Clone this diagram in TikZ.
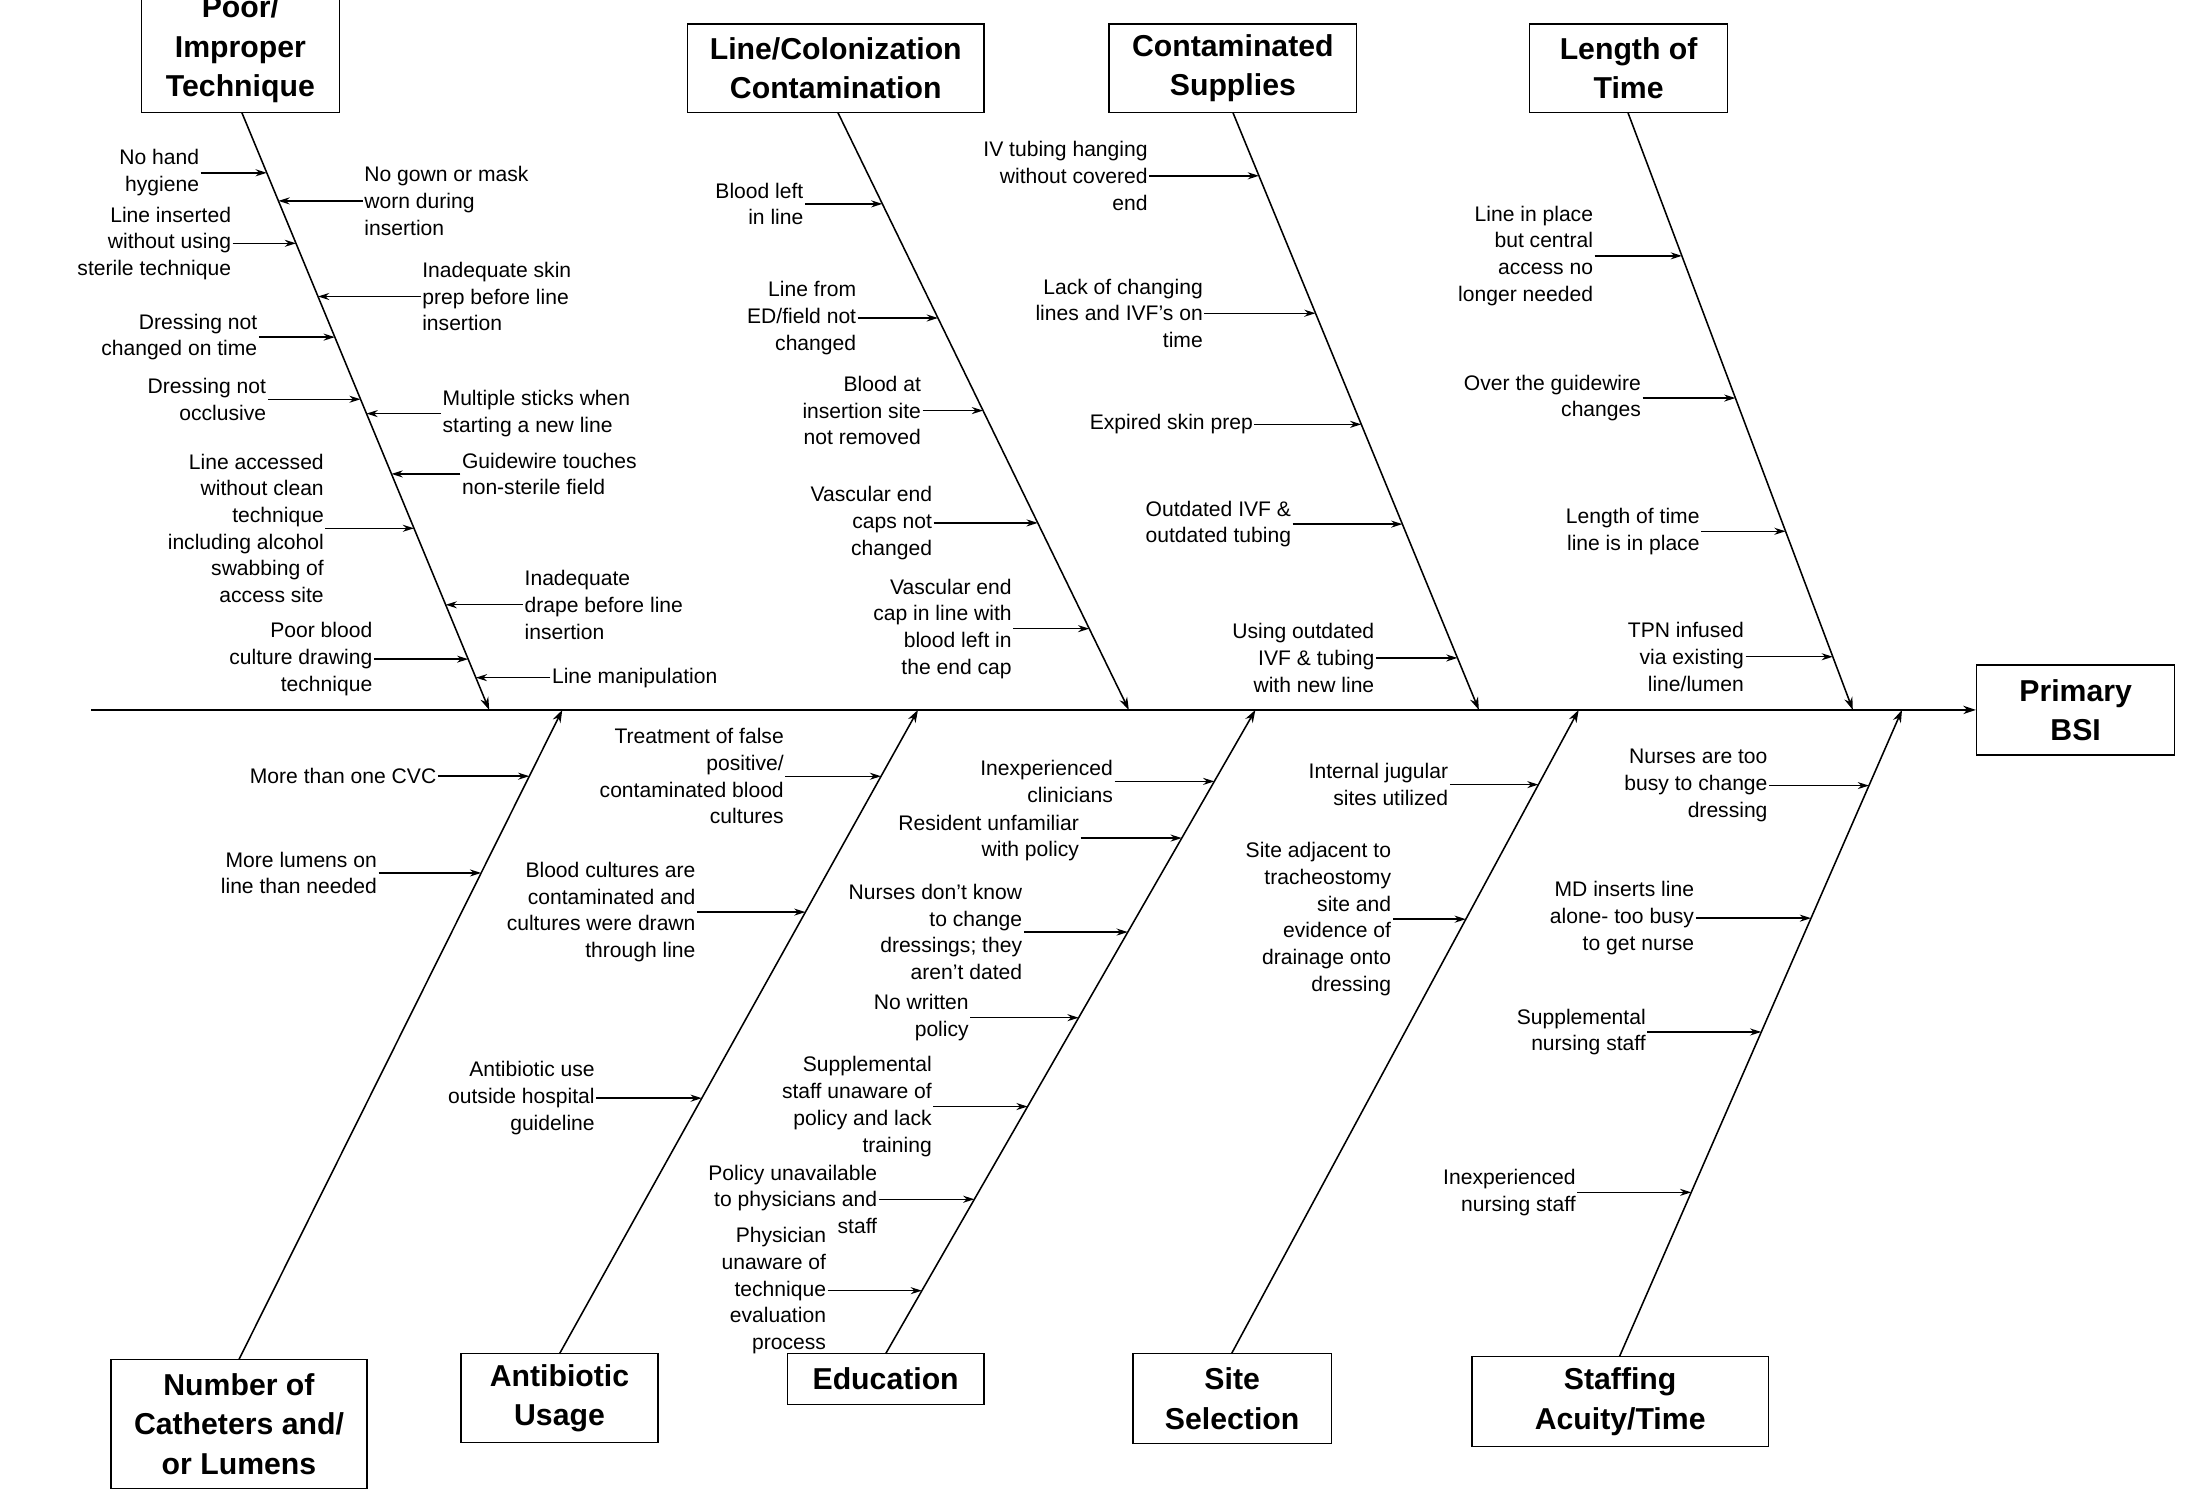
\documentclass[tikz,border=0pt]{standalone}
\usepackage{fontspec}
\setmainfont{Liberation Sans}
\usetikzlibrary{calc,arrows.meta}
\tikzset{
 box/.style={draw,line width=1pt,font=\fontsize{21.5}{28}\selectfont\bfseries,align=center,inner sep=0pt},
 bone/.style={line width=1.1pt},
 lab/.style={font=\fontsize{15}{19}\selectfont,inner sep=1pt},
 arr/.style={line width=1pt,-{Stealth[length=8pt,width=5pt]}}
}
\newcommand\causeL[5]{\coordinate (p) at ($(#1)!#3!(#2)$);
 \node[lab,anchor=east,align=right] (t) at ([xshift=-#4pt]p) {#5};
 \draw[arr] (t.east) -- (p);}
\newcommand\causeR[5]{\coordinate (p) at ($(#1)!#3!(#2)$);
 \node[lab,anchor=west,align=left] (t) at ([xshift=#4pt]p) {#5};
 \draw[arr] (t.west) -- (p);}
\begin{document}
\begin{tikzpicture}[x=1pt,y=-1pt]
\useasboundingbox (0,0) rectangle (1560,1072);
% boxes
\node[box,minimum width=141pt,minimum height=90pt] (b1) at (171,35) {Poor/\\Improper\\Technique};
\node[box,minimum width=211pt,minimum height=63pt] (b2) at (594.5,48.5) {Line/Colonization\\Contamination};
\node[box,minimum width=176pt,minimum height=63pt] (b3) at (877,48.5) {Contaminated\\Supplies};
\node[box,minimum width=141pt,minimum height=63pt] (b4) at (1158.5,48.5) {Length of\\Time};
\node[box,minimum width=141pt,minimum height=64pt] (bsi) at (1476.5,505) {Primary\\BSI};
\node[box,minimum width=182pt,minimum height=92pt] (b5) at (170,1013) {Number of\\Catheters and/\\or Lumens};
\node[box,minimum width=140pt,minimum height=63pt] (b6) at (398,994.5) {Antibiotic\\Usage};
\node[box,minimum width=140pt,minimum height=36pt] (b7) at (630,981) {Education};
\node[box,minimum width=141pt,minimum height=64pt] (b8) at (876.5,995) {Site\\Selection};
\node[box,minimum width=211pt,minimum height=64pt] (b9) at (1152.5,997) {Staffing\\Acuity/Time};
% spine
\coordinate (s0) at (65,505);
\draw[bone,-{Stealth[length=9pt,width=6pt]}] (s0) -- (bsi.west);
% bones
\coordinate (A1) at (172,80); \coordinate (B1) at (348,505);
\coordinate (A2) at (596,80); \coordinate (B2) at (803,505);
\coordinate (A3) at (877,80); \coordinate (B3) at (1052,505);
\coordinate (A4) at (1158,80); \coordinate (B4) at (1318,505);
\coordinate (A5) at (170,967); \coordinate (B5) at (400,505);
\coordinate (A6) at (398,963); \coordinate (B6) at (653,505);
\coordinate (A7) at (630,963); \coordinate (B7) at (893,505);
\coordinate (A8) at (876,963); \coordinate (B8) at (1123,505);
\coordinate (A9) at (1152,965); \coordinate (B9) at (1353,505);
\foreach \i in {1,...,9} {\draw[bone,-{Stealth[length=9pt,width=6pt]}] (A\i) -- (B\i);}
% bone 1
\causeL{A1}{B1}{0.101}{47}{No hand\\hygiene}
\causeL{A1}{B1}{0.219}{45}{Line inserted\\without using\\sterile technique}
\causeL{A1}{B1}{0.376}{54}{Dressing not\\changed on time}
\causeL{A1}{B1}{0.48}{66}{Dressing not\\occlusive}
\causeL{A1}{B1}{0.696}{63}{Line accessed\\without clean\\technique\\including alcohol\\swabbing of\\access site}
\causeL{A1}{B1}{0.915}{67}{Poor blood\\culture drawing\\technique}
\causeR{A1}{B1}{0.148}{60}{No gown or mask\\worn during\\insertion}
\causeR{A1}{B1}{0.308}{73}{Inadequate skin\\prep before line\\insertion}
\causeR{A1}{B1}{0.504}{53}{Multiple sticks when\\starting a new line}
\causeR{A1}{B1}{0.605}{49}{Guidewire touches\\non-sterile field}
\causeR{A1}{B1}{0.824}{55}{Inadequate\\drape before line\\insertion}
\causeR{A1}{B1}{0.946}{53}{Line manipulation}
% bone 2
\causeL{A2}{B2}{0.153}{55}{Blood left\\in line}
\causeL{A2}{B2}{0.344}{57}{Line from\\ED/field not\\changed}
\causeL{A2}{B2}{0.499}{43}{Blood at\\insertion site\\not removed}
\causeL{A2}{B2}{0.687}{74}{Vascular end\\caps not\\changed}
\causeL{A2}{B2}{0.864}{54}{Vascular end\\cap in line with\\blood left in\\the end cap}
% bone 3
\causeL{A3}{B3}{0.106}{78}{IV tubing hanging\\without covered\\end}
\causeL{A3}{B3}{0.336}{79}{Lack of changing\\lines and IVF's on\\time}
\causeL{A3}{B3}{0.522}{76}{Expired skin prep}
\causeL{A3}{B3}{0.689}{78}{Outdated IVF \&\\outdated tubing}
\causeL{A3}{B3}{0.913}{58}{Using outdated\\IVF \& tubing\\with new line}
% bone 4
\causeL{A4}{B4}{0.24}{62}{Line in place\\but central\\access no\\longer needed}
\causeL{A4}{B4}{0.478}{66}{Over the guidewire\\changes}
\causeL{A4}{B4}{0.701}{60}{Length of time\\line is in place}
\causeL{A4}{B4}{0.911}{62}{TPN infused\\via existing\\line/lumen}
% bone 5
\causeL{A5}{B5}{0.898}{65}{More than one CVC}
\causeL{A5}{B5}{0.749}{73}{More lumens on\\line than needed}
% bone 6
\causeL{A6}{B6}{0.897}{68}{Treatment of false\\positive/\\contaminated blood\\cultures}
\causeL{A6}{B6}{0.686}{77}{Blood cultures are\\contaminated and\\cultures were drawn\\through line}
\causeL{A6}{B6}{0.397}{75}{Antibiotic use\\outside hospital\\guideline}
% bone 7
\causeL{A7}{B7}{0.889}{71}{Inexperienced\\clinicians}
\causeL{A7}{B7}{0.801}{72}{Resident unfamiliar\\with policy}
\causeL{A7}{B7}{0.655}{74}{Nurses don't know\\to change\\dressings; they\\aren't dated}
\causeL{A7}{B7}{0.522}{77}{No written\\policy}
\causeL{A7}{B7}{0.384}{67}{Supplemental\\staff unaware of\\policy and lack\\training}
\causeL{A7}{B7}{0.24}{68}{Policy unavailable\\to physicians and\\staff}
\causeL{A7}{B7}{0.098}{67}{Physician\\unaware of\\technique\\evaluation\\process}
% bone 8
\causeL{A8}{B8}{0.884}{63}{Internal jugular\\sites utilized}
\causeL{A8}{B8}{0.675}{52}{Site adjacent to\\tracheostomy\\site and\\evidence of\\drainage onto\\dressing}
% bone 9
\causeL{A9}{B9}{0.883}{71}{Nurses are too\\busy to change\\dressing}
\causeL{A9}{B9}{0.678}{82}{MD inserts line\\alone- too busy\\to get nurse}
\causeL{A9}{B9}{0.502}{81}{Supplemental\\nursing staff}
\causeL{A9}{B9}{0.254}{81}{Inexperienced\\nursing staff}
\end{tikzpicture}
\end{document}
